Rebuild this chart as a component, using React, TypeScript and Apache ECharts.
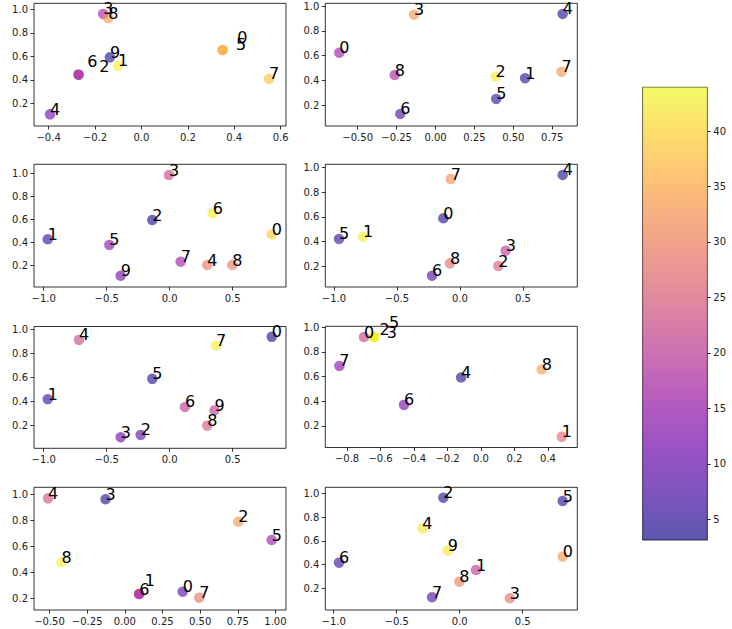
import { useEffect, useRef } from 'react'
import * as echarts from 'echarts'

// plasma colormap
const plasma = ['#0d0887', '#41049d', '#6a00a8', '#8f0da4', '#b12a90', '#cc4778', '#e16462', '#f2844b', '#fca636', '#fcce25', '#f0f921']

const colorMin = 3.13
const colorMax = 43.94
const colorbarTicks = [5, 10, 15, 20, 25, 30, 35, 40]
const yTicks = [0.2, 0.4, 0.6, 0.8, 1.0]

// [label, x, y, colour value, label x, label y]  (null label pos = at the point)
type Row = [string, number, number, number, number | null, number | null]

const panelA: Row[] = [
  ['0', 0.350, 0.654, 36, 0.413, 0.716],
  ['1', -0.101, 0.518, 43, null, null],
  ['2', -0.271, 0.444, 18, -0.182, 0.470],
  ['3', -0.165, 0.960, 17, null, null],
  ['4', -0.394, 0.106, 11, null, null],
  ['5', 0.350, 0.654, 36, 0.407, 0.654],
  ['6', -0.271, 0.444, 18, -0.234, 0.512],
  ['7', 0.550, 0.407, 38, null, null],
  ['8', -0.143, 0.924, 34, null, null],
  ['9', -0.136, 0.591, 4, null, null],
]
const panelB: Row[] = [
  ['0', -0.618, 0.624, 16, null, null],
  ['1', 0.576, 0.418, 4, null, null],
  ['2', 0.386, 0.431, 43, null, null],
  ['3', -0.138, 0.930, 33, null, null],
  ['4', 0.817, 0.936, 4, null, null],
  ['5', 0.390, 0.251, 5, null, null],
  ['6', -0.226, 0.130, 7, null, null],
  ['7', 0.810, 0.471, 33, null, null],
  ['8', -0.262, 0.444, 17, null, null],
]
const panelC: Row[] = [
  ['0', 0.810, 0.471, 39, null, null],
  ['1', -0.968, 0.428, 6, null, null],
  ['2', -0.138, 0.595, 4, null, null],
  ['3', -0.006, 0.985, 22, null, null],
  ['4', 0.298, 0.205, 29, null, null],
  ['5', -0.479, 0.379, 14, null, null],
  ['6', 0.341, 0.653, 43, null, null],
  ['7', 0.087, 0.234, 16, null, null],
  ['8', 0.497, 0.205, 29, null, null],
  ['9', -0.389, 0.113, 11, null, null],
]
const panelD: Row[] = [
  ['0', -0.132, 0.588, 4, null, null],
  ['1', -0.770, 0.439, 43, null, null],
  ['2', 0.304, 0.202, 25, null, null],
  ['3', 0.363, 0.326, 20, null, null],
  ['4', 0.815, 0.938, 4, null, null],
  ['5', -0.960, 0.421, 6, null, null],
  ['6', -0.222, 0.124, 8, null, null],
  ['7', -0.074, 0.905, 32, null, null],
  ['8', -0.079, 0.224, 28, null, null],
]
const panelE: Row[] = [
  ['0', 0.810, 0.936, 4, null, null],
  ['1', -0.968, 0.419, 6, null, null],
  ['2', -0.230, 0.123, 9, null, null],
  ['3', -0.389, 0.104, 11, null, null],
  ['4', -0.720, 0.911, 22, null, null],
  ['5', -0.138, 0.588, 4, null, null],
  ['6', 0.121, 0.355, 20, null, null],
  ['7', 0.367, 0.864, 43, null, null],
  ['8', 0.298, 0.200, 24, null, null],
  ['9', 0.356, 0.328, 21, null, null],
]
const panelF: Row[] = [
  ['0', -0.699, 0.919, 21, null, null],
  ['1', 0.482, 0.111, 27, null, null],
  ['2', -0.639, 0.919, 43, -0.607, 0.941],
  ['3', -0.639, 0.919, 43, -0.563, 0.919],
  ['4', -0.119, 0.591, 4, null, null],
  ['5', -0.639, 0.919, 43, -0.549, 1.0],
  ['6', -0.460, 0.370, 12, null, null],
  ['7', -0.846, 0.685, 13, null, null],
  ['8', 0.362, 0.656, 34, null, null],
]
const panelG: Row[] = [
  ['0', 0.384, 0.251, 8, null, null],
  ['1', 0.095, 0.233, 18, 0.133, 0.302],
  ['2', 0.753, 0.789, 33, null, null],
  ['3', -0.128, 0.962, 4, null, null],
  ['4', -0.510, 0.969, 24, null, null],
  ['5', 0.975, 0.648, 16, null, null],
  ['6', 0.095, 0.233, 18, null, null],
  ['7', 0.494, 0.205, 28, null, null],
  ['8', -0.421, 0.477, 43, null, null],
]
const panelH: Row[] = [
  ['0', 0.817, 0.466, 33, null, null],
  ['1', 0.129, 0.354, 20, null, null],
  ['2', -0.130, 0.963, 4, null, null],
  ['3', 0.397, 0.116, 28, null, null],
  ['4', -0.297, 0.705, 42, null, null],
  ['5', 0.817, 0.935, 4, null, null],
  ['6', -0.958, 0.416, 6, null, null],
  ['7', -0.220, 0.124, 8, null, null],
  ['8', -0.003, 0.256, 30, null, null],
  ['9', -0.095, 0.517, 42, null, null],
]

const ticksA = [-0.4, -0.2, 0, 0.2, 0.4, 0.6]
const ticksB = [-0.5, -0.25, 0, 0.25, 0.5, 0.75]
const ticksC = [-1, -0.5, 0, 0.5]
const ticksF = [-0.8, -0.6, -0.4, -0.2, 0, 0.2, 0.4]
const ticksG = [-0.5, -0.25, 0, 0.25, 0.5, 0.75, 1.0]

// panel boxes (px) and axis ranges
const panels = [
  { rows: panelA, left: 34, top: 3.3, h: 122.7, x: [-0.463, 0.623], y: [0.007, 1.051], xt: ticksA, dec: 1 },
  { rows: panelB, left: 325.3, top: 3.3, h: 122.7, x: [-0.708, 0.911], y: [0.033, 1.022], xt: ticksB, dec: 2 },
  { rows: panelC, left: 34, top: 164.3, h: 122.7, x: [-1.077, 0.923], y: [0.015, 1.078], xt: ticksC, dec: 1 },
  { rows: panelD, left: 325.3, top: 164.3, h: 122.7, x: [-1.069, 0.931], y: [0.033, 1.024], xt: ticksC, dec: 1 },
  { rows: panelE, left: 34, top: 326.5, h: 121.8, x: [-1.077, 0.923], y: [0.012, 1.022], xt: ticksC, dec: 1 },
  { rows: panelF, left: 325.3, top: 326.3, h: 121.2, x: [-0.930, 0.575], y: [0.025, 1.006], xt: ticksF, dec: 1 },
  { rows: panelG, left: 34, top: 487.3, h: 122.7, x: [-0.603, 1.070], y: [0.110, 1.054], xt: ticksG, dec: 2 },
  { rows: panelH, left: 325.3, top: 487.3, h: 122.7, x: [-1.067, 0.933], y: [0.017, 1.051], xt: ticksC, dec: 1 },
]

const font = 'DejaVu Sans'
const fmt = (v: number, dec: number) => (v < -1e-9 ? '\u2212' : '') + Math.abs(v).toFixed(dec)

const tickStyle = { show: true, length: 3.5, lineStyle: { color: '#000', width: 0.8 } }
const labelStyle = { margin: 6, fontSize: 10, color: '#222', fontFamily: font }
const noLine = { show: false, onZero: false }

export default function App() {
  const ref = useRef<HTMLDivElement>(null)

  useEffect(() => {
    if (!ref.current) return
    const chart = echarts.init(ref.current, null, { renderer: 'svg' })

    const grid: any[] = panels.map((p) => ({
      left: p.left, top: p.top, width: 252, height: p.h,
      show: true, borderColor: '#000', borderWidth: 0.8,
    }))
    grid.push({ left: 642.7, top: 87.3, width: 64.6, height: 452.7, show: true, borderColor: '#000', borderWidth: 0.8 })

    const xAxis: any[] = panels.map((p, i) => ({
      type: 'value', gridIndex: i, min: p.x[0], max: p.x[1],
      axisLine: noLine, splitLine: { show: false },
      axisTick: { ...tickStyle, customValues: p.xt },
      axisLabel: { ...labelStyle, customValues: p.xt, formatter: (v: number) => fmt(v, p.dec) },
    }))
    xAxis.push({ type: 'value', gridIndex: 8, min: 0, max: 1, show: false })

    const yAxis: any[] = panels.map((p, i) => ({
      type: 'value', gridIndex: i, min: p.y[0], max: p.y[1],
      axisLine: noLine, splitLine: { show: false },
      axisTick: { ...tickStyle, customValues: yTicks },
      axisLabel: { ...labelStyle, customValues: yTicks, formatter: (v: number) => fmt(v, 1) },
    }))
    yAxis.push({
      type: 'value', gridIndex: 8, position: 'right', min: colorMin, max: colorMax,
      axisLine: noLine, splitLine: { show: false },
      axisTick: { ...tickStyle, customValues: colorbarTicks },
      axisLabel: { ...labelStyle, customValues: colorbarTicks, formatter: (v: number) => String(v) },
    })

    const scatter = panels.map((p, i) => ({
      type: 'scatter', xAxisIndex: i, yAxisIndex: i,
      data: p.rows.map((r) => [r[1], r[2], r[3]]),
      symbolSize: 10.5,
      itemStyle: { opacity: 0.6 },
      z: 2,
    }))

    const labels = panels.map((p, i) => ({
      type: 'custom', xAxisIndex: i, yAxisIndex: i, silent: true, z: 3,
      data: p.rows.map((r) => [r[4] ?? r[1], r[5] ?? r[2]]),
      renderItem: (params: any, api: any) => {
        const pt = api.coord([api.value(0), api.value(1)])
        return {
          type: 'text', x: pt[0], y: pt[1] + 3,
          style: {
            text: p.rows[params.dataIndex][0],
            fontSize: 16, fontFamily: font, fill: '#000',
            align: 'left', verticalAlign: 'bottom',
          },
        }
      },
    }))

    const colorbar = {
      type: 'custom', xAxisIndex: 8, yAxisIndex: 8, silent: true,
      data: [[0, colorMin, 1, colorMax]],
      renderItem: (_params: any, api: any) => {
        const a = api.coord([api.value(0), api.value(3)])
        const b = api.coord([api.value(2), api.value(1)])
        return {
          type: 'rect',
          shape: { x: a[0], y: a[1], width: b[0] - a[0], height: b[1] - a[1] },
          style: {
            fill: new echarts.graphic.LinearGradient(0, 1, 0, 0,
              plasma.map((c, k) => ({ offset: k / (plasma.length - 1), color: c }))),
            opacity: 0.68,
          },
        }
      },
    }

    chart.setOption({
      animation: false,
      backgroundColor: '#fff',
      grid, xAxis, yAxis,
      visualMap: {
        type: 'continuous', show: false, min: colorMin, max: colorMax, dimension: 2,
        seriesIndex: panels.map((_, i) => i),
        inRange: { color: plasma },
      },
      series: [...scatter, ...labels, colorbar],
    } as any)

    return () => chart.dispose()
  }, [])

  return <div ref={ref} style={{ position: 'absolute', left: 0, top: 0, width: 732, height: 629 }} />
}
